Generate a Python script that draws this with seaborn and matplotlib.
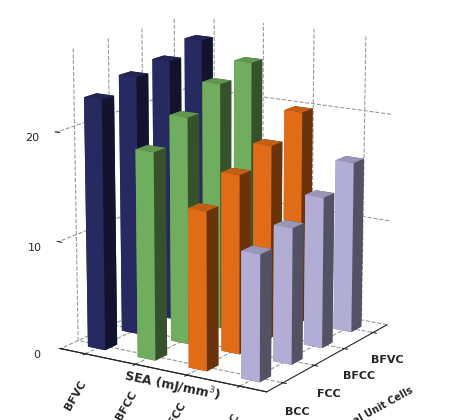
import numpy as np
import matplotlib
matplotlib.use("Agg")
import matplotlib.pyplot as plt
import seaborn as sns

sns.set_style("white")

matrix_cells = ["BFVC", "BFCC", "FCC", "BCC"]
diagonal_cells = ["BCC", "FCC", "BFCC", "BFVC"]
sea_bfvc = [23.0, 24.0, 24.5, 25.5]
sea_bfcc = [19.0, 21.0, 23.0, 24.0]
sea_fcc = [14.5, 16.5, 18.0, 20.0]
sea_bcc = [11.5, 12.5, 14.0, 16.0]
colors = ["#2b2f6e", "#7fc46a", "#ff7a1a", "#c8c4f0"]

series = [sea_bfvc, sea_bfcc, sea_fcc, sea_bcc]

fig = plt.figure(figsize=(4.74, 4.2), dpi=100)
ax = fig.add_subplot(111, projection="3d")
ax.set_box_aspect((1, 1, 1.25))
dx, dy = 0.35, 0.35
for i, vals in enumerate(series):
    for j, v in enumerate(vals):
        ax.bar3d(i - dx / 2, j - dy / 2, 0, dx, dy, v, color=colors[i],
                 edgecolor="none", shade=True)

ax.set_xticks(range(len(matrix_cells)))
ax.set_xticklabels(matrix_cells, fontsize=8, fontweight="bold", rotation=60)
ax.set_yticks(range(len(diagonal_cells)))
ax.set_yticklabels(diagonal_cells, fontsize=8, fontweight="bold")
ax.set_zticks([0, 10, 20])
ax.set_zlim(0, 27)
ax.set_xlim(-0.5, 3.5)
ax.set_ylim(-0.5, 3.5)
ax.tick_params(axis="z", labelsize=8)
ax.set_xlabel("Matrix Unit Cells", fontsize=8, fontweight="bold", labelpad=10)
ax.set_ylabel("Diagonal Unit Cells", fontsize=7, fontweight="bold", labelpad=8)
ax.set_zlabel("SEA (mJ/mm$^3$)", fontsize=9, fontweight="bold")
ax.zaxis._axinfo["juggled"] = (1, 0, 2)
for a in (ax.xaxis, ax.yaxis, ax.zaxis):
    a.set_pane_color((1, 1, 1, 0))
    a._axinfo["grid"]["linestyle"] = "--"
    a._axinfo["grid"]["color"] = (0.6, 0.6, 0.6, 1)
ax.view_init(elev=15, azim=-58)
fig.subplots_adjust(left=-0.05, right=0.98, bottom=0.0, top=1.05)
fig.savefig("out.png", dpi=100)
